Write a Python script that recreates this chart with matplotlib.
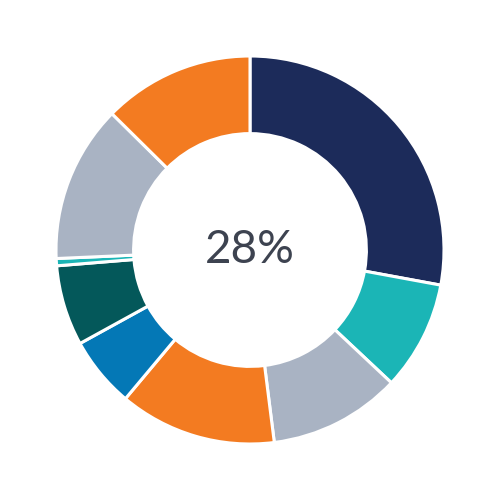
import matplotlib.pyplot as plt

# slice shares, clockwise from 12 o'clock
values = [27.9, 9.1, 11.0, 13.1, 5.9, 6.7, 0.6, 13.1, 12.6]
colors = ["#1c2b5a", "#1bb5b6", "#a9b3c3", "#f37b21", "#0478b6",
          "#04585a", "#1bb5b6", "#a9b3c3", "#f37b21"]
center_label = "28%"

fig = plt.figure(figsize=(5, 5), dpi=100)
ax = fig.add_axes([0, 0, 1, 1])

ax.pie(values, colors=colors, startangle=90, counterclock=False,
       radius=1.0,
       wedgeprops=dict(width=0.4, edgecolor="white", linewidth=2.2))

ax.text(0, 0.0, center_label, ha="center", va="center",
        fontsize=33, color="#3d4350", family="Lato")

lim = 250 / 194
ax.set_xlim(-lim, lim)
ax.set_ylim(-lim, lim)
ax.set_aspect("equal")
ax.axis("off")

fig.savefig("out.png", dpi=100, facecolor="white")
